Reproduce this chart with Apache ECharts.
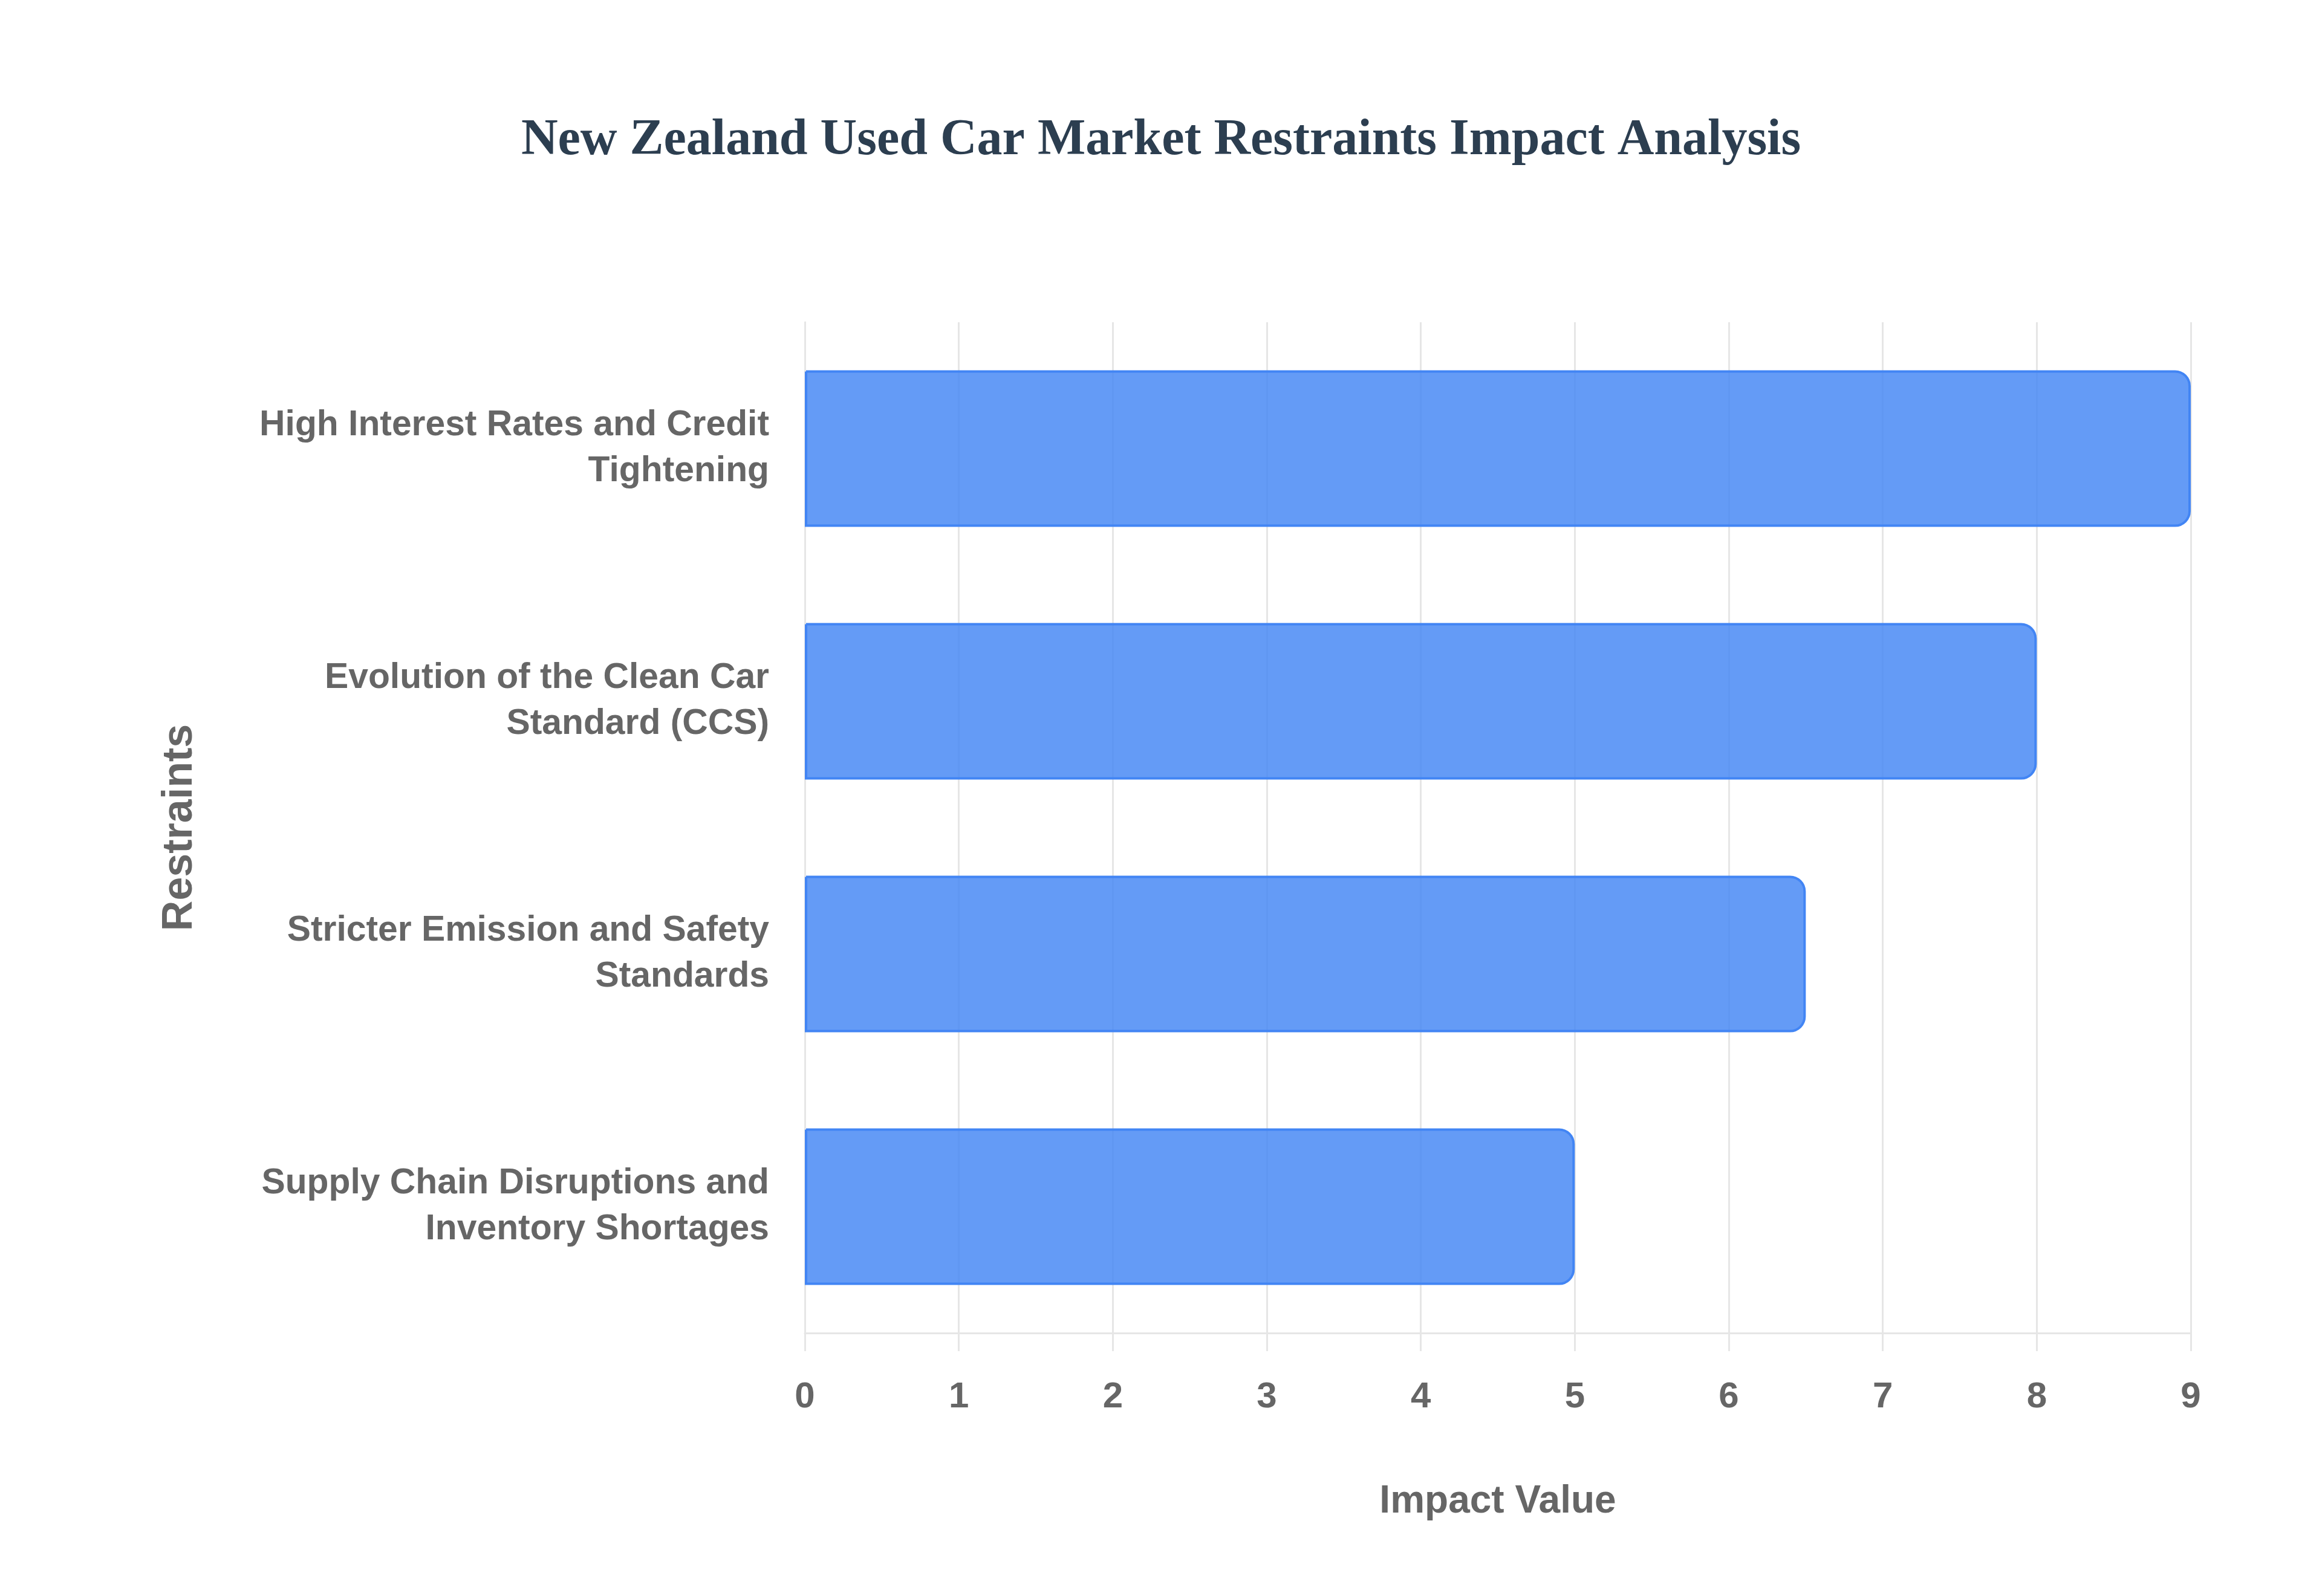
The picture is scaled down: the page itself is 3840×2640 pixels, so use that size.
<!DOCTYPE html>
<html>
<head>
<meta charset="utf-8">
<script src="https://cdn.jsdelivr.net/npm/echarts@6/dist/echarts.min.js"></script>
<style>
html,body{margin:0;padding:0;background:#fff;}
#chart{width:3840px;height:2640px;}
</style>
</head>
<body>
<div id="chart"></div>
<script>
var titleText = "New Zealand Used Car Market Restraints Impact Analysis";
var categories = [
  "High Interest Rates and Credit\nTightening",
  "Evolution of the Clean Car\nStandard (CCS)",
  "Stricter Emission and Safety\nStandards",
  "Supply Chain Disruptions and\nInventory Shortages"
];
var impactValues = [9, 8, 6.5, 5];
var xAxisName = "Impact Value";
var yAxisName = "Restraints";

var chart = echarts.init(document.getElementById('chart'), null, {renderer: 'canvas'});
var sans = "'Liberation Sans', Arial, Helvetica, sans-serif";
var gridColor = '#e6e6e6';
chart.setOption({
  backgroundColor: '#ffffff',
  animation: false,
  title: {
    text: titleText,
    left: 'center',
    top: 186,
    textStyle: {
      fontFamily: "'Liberation Serif', 'Times New Roman', serif",
      fontWeight: 'bold',
      fontSize: 84,
      color: '#2c3e50'
    }
  },
  grid: {left: 1331, top: 533, width: 2292, height: 1672, containLabel: false},
  xAxis: {
    type: 'value',
    min: 0, max: 9, interval: 1,
    name: xAxisName,
    nameLocation: 'middle',
    nameGap: 247,
    nameTextStyle: {fontFamily: sans, fontWeight: 'bold', fontSize: 64, color: '#666666'},
    axisLine: {show: true, lineStyle: {color: gridColor, width: 3}},
    axisTick: {show: true, length: 30, lineStyle: {color: gridColor, width: 3}},
    axisLabel: {margin: 76, fontFamily: sans, fontWeight: 'bold', fontSize: 60, color: '#666666'},
    splitLine: {show: true, lineStyle: {color: gridColor, width: 3}}
  },
  yAxis: {
    type: 'category',
    data: categories,
    inverse: true,
    name: yAxisName,
    nameLocation: 'middle',
    nameGap: 998,
    nameTextStyle: {fontFamily: sans, fontWeight: 'bold', fontSize: 70, color: '#666666'},
    axisLine: {show: true, lineStyle: {color: gridColor, width: 3}},
    axisTick: {show: false},
    axisLabel: {margin: 59, fontFamily: sans, fontWeight: 'bold', fontSize: 58.8, lineHeight: 76, color: '#666666', align: 'right'},
    splitLine: {show: false}
  },
  series: [{
    type: 'bar',
    data: impactValues,
    barCategoryGap: '38%',
    itemStyle: {
      color: 'rgba(66,133,244,0.82)',
      borderColor: '#4285F4',
      borderWidth: 4,
      borderRadius: [0, 24, 24, 0]
    }
  }]
});
</script>
</body>
</html>
